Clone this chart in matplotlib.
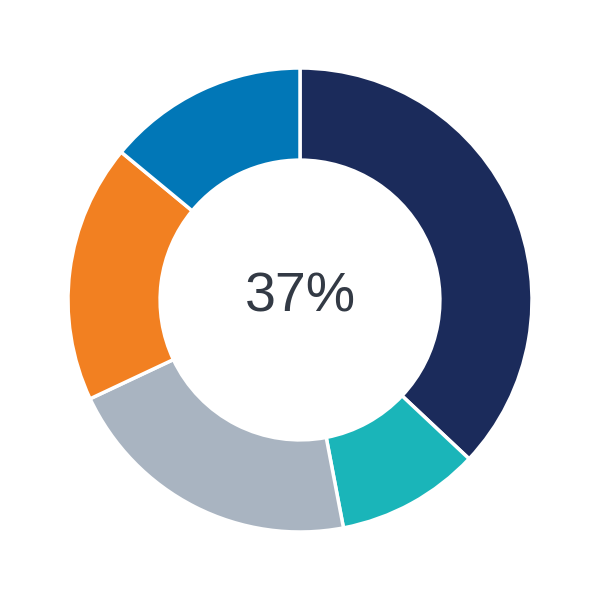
import matplotlib
matplotlib.use('Agg')
import matplotlib.pyplot as plt

# slice data, clockwise from 12 o'clock
labels = ['Navy', 'Teal', 'Gray', 'Orange', 'Blue']
values = [37, 10, 21, 18, 14]
colors = ['#1b2b5b', '#1ab5b9', '#a9b4c1', '#f28021', '#0177b7']
center_text = '37%'

fig = plt.figure(figsize=(6, 6), dpi=100)
ax = fig.add_axes([0, 0, 1, 1])

ax.pie(values, colors=colors, startangle=90, counterclock=False,
       radius=1.0,
       wedgeprops=dict(width=0.397, edgecolor='white', linewidth=2.5))

ax.text(0, 0.01, center_text, ha='center', va='center', fontsize=40,
        color='#333a45', family=['Liberation Sans', 'DejaVu Sans'])

lim = 300 / 232
ax.set_xlim(-lim, lim)
ax.set_ylim(-lim, lim)
ax.set_aspect('equal')
ax.axis('off')

plt.savefig('out.png', dpi=100, facecolor='white')
